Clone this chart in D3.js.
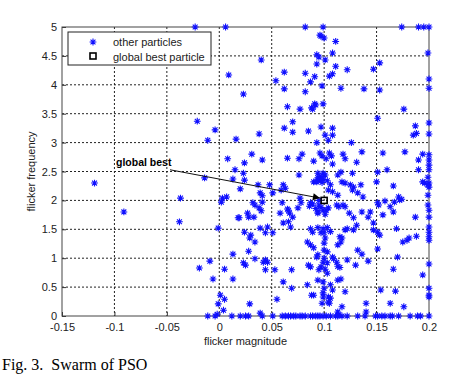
<html>
<head>
<meta charset="utf-8">
<style>
  body { margin: 0; background: #fff; }
</style>
</head>
<body>
<script src="https://d3js.org/d3.v7.min.js"></script>
<div id="chart"></div>
<script>
// tick values and labels
var xTicks = [-0.15, -0.1, -0.05, 0, 0.05, 0.1, 0.15, 0.2];
var xTickLabels = ["-0.15", "-0.1", "-0.05", "0", "0.05", "0.1", "0.15", "0.2"];
var yTicks = [0, 0.5, 1, 1.5, 2, 2.5, 3, 3.5, 4, 4.5, 5];
var yTickLabels = ["0", "0.5", "1", "1.5", "2", "2.5", "3", "3.5", "4", "4.5", "5"];

// global best particle
var bestParticle = [0.1, 2.0];

// annotation arrow: start and end (data units)
var arrowFrom = [-0.047, 2.53];
var arrowTo = [0.096, 2.04];
var arrowText = "global best";

// other particles [flicker magnitude, flicker frequency]
var particles = [
  [-0.023,5],[0.006,5],[0.082,5],[0.099,5],[0.174,5],[0.190,5],[0.195,5],[0.2,5],
  [0.096,4.86],[0.097,4.84],[0.100,4.81],[0.111,4.75],
  [0.040,4.43],[0.093,4.52],[0.108,4.55],[0.095,4.48],[0.101,4.43],[0.199,4.55],
  [0.093,4.36],[0.111,4.32],[0.122,4.26],[0.147,4.27],[0.153,4.38],
  [0.009,4.17],[0.062,4.22],[0.054,4.07],[0.082,4.20],[0.091,4.14],[0.087,4.05],[0.105,4.15],[0.108,4.19],[0.2,4.10],
  [0.062,3.93],[0.082,3.88],[0.023,3.84],[0.098,3.98],[0.116,3.94],[0.138,3.93],[0.153,3.91],[0.2,3.94],
  [0.091,3.67],[0.089,3.58],[0.065,3.62],[0.077,3.58],[0.092,3.65],[0.099,3.67],[0.088,3.60],[0.176,3.58],
  [0.151,3.42],[0.070,3.36],[0.062,3.25],[0.070,3.18],[0.085,3.20],[0.097,3.27],[0.108,3.25],[0.108,3.13],[0.101,3.13],
  [0.038,3.15],[0.016,3.06],[0.104,3.04],[0.093,3.0],[0.126,3.0],[0.2,3.34],[0.2,3.15],[0.187,3.29],[0.188,3.16],[0.185,3.13],
  [-0.021,3.37],[-0.004,3.22],[-0.011,3.04],
  [0.031,2.80],[0.024,2.65],[0.041,2.70],[0.065,2.73],[0.076,2.72],[0.079,2.80],[0.008,2.72],
  [0.096,2.82],[0.098,2.77],[0.105,2.82],[0.107,2.77],[0.102,2.72],[0.118,2.80],[0.120,2.72],[0.131,2.66],[0.136,2.84],
  [0.156,2.82],[0.177,2.84],[0.194,2.80],[0.190,2.70],
  [0.2,2.79],[0.2,2.70],[0.2,2.61],[0.2,2.53],[0.108,2.63],[0.090,2.68],
  [0.015,2.53],[0.023,2.47],[0.076,2.44],[0.094,2.47],[0.099,2.47],[0.101,2.44],[0.097,2.35],[0.116,2.49],[0.113,2.44],
  [0.127,2.47],[0.151,2.49],[0.150,2.32],[0.160,2.53],[0.190,2.53],
  [0.090,2.32],[0.094,2.35],[0.117,2.32],[0.120,2.30],[0.125,2.27],[0.128,2.23],[0.135,2.27],[0.166,2.25],[0.196,2.30],[0.2,2.30],[0.2,2.23],
  [0.037,2.27],[0.048,2.27],[0.061,2.27],[0.063,2.21],
  [-0.014,2.39],[-0.119,2.30],[0.024,2.35],[0.013,2.37],
  [-0.037,2.04],[-0.091,1.80],[-0.038,1.63],[-0.001,1.52],
  [0.002,1.97],[0.003,2.04],[0.007,2.06],[0.018,1.70],[0.013,1.07],[-0.009,0.95],[-0.019,0.83],[0.005,0.81],[-0.006,0.64],[0.013,0.64],
  [0.001,0.36],[0.005,0.29],[-0.001,0.21],[0.004,0.10],[-0.002,0.03],
  [0.059,2.18],[0.020,2.20],[0.039,2.13],[0.041,2.08],[0.051,2.13],
  [0.032,1.96],[0.034,1.92],[0.041,1.97],[0.078,1.96],[0.075,1.87],[0.087,1.96],[0.095,2.0],[0.065,1.85],[0.058,1.78],[0.027,1.78],[0.094,1.80],
  [0.096,2.42],[0.094,2.39],[0.098,2.40],[0.099,2.36],[0.103,2.34],[0.093,2.32],[0.098,2.31],
  [0.106,2.27],[0.108,2.15],[0.104,2.18],[0.127,2.18],[0.113,2.09],[0.132,2.13],[0.137,2.06],
  [0.171,2.06],[0.172,2.01],[0.199,2.40],[0.199,2.27],[0.199,2.09],[0.194,2.32],
  [0.095,1.92],[0.099,1.83],[0.104,1.87],[0.120,1.89],
  [0.144,1.80],[0.151,1.96],[0.158,1.99],[0.166,1.80],[0.199,1.92],
  [0.167,1.97],[0.174,2.02],[0.163,1.89],[0.152,1.92],[0.156,1.75],
  [0.2,1.83],[0.2,1.71],[0.2,1.54],[0.2,1.45],[0.2,1.37],[0.2,1.31],
  [0.187,1.71],[0.175,1.28],[0.179,1.31],[0.181,1.35],[0.188,1.38],[0.169,1.51],[0.147,1.49],[0.153,1.40],[0.151,1.45],
  [0.151,1.16],[0.142,0.95],[0.170,1.02],[0.166,0.81],[0.2,0.90],[0.194,0.71],[0.2,0.48],[0.2,0.36],[0.2,0.33],
  [0.154,0.45],[0.168,0.43],[0.163,0.22],[0.176,0.16],[0.140,0.22],[0.140,0.07],[0.117,0.16],[0.113,0.07],[0.114,0.02],
  [0.098,0.22],[0.105,0.22],[0.104,0.33],[0.1,0.48],[0.099,0.40],[0.088,0.36],[0.090,0.36],[0.084,0.54],[0.069,0.48],
  [0.061,0.59],[0.055,0.29],[0.029,0.21],[0.039,0.05],
  [0.025,0.88],[0.023,0.92],[0.044,0.97],[0.046,0.93],[0.042,0.93],[0.044,0.80],[0.053,0.80],[0.069,0.80],[0.034,0.99],[0.028,1.12],
  [0.019,1.70],[0.028,1.71],[0.033,1.71],[0.024,1.45],[0.030,1.40],[0.034,1.28],[0.029,1.35],
  [0.039,1.52],[0.046,1.54],[0.044,1.44],[0.051,1.44],[0.040,1.82],[0.038,1.87],
  [0.061,1.61],[0.067,1.78],[0.066,1.63],[0.070,1.71],[0.060,1.96],[0.066,1.83],[0.077,2.04],
  [0.086,1.90],[0.089,1.94],[0.092,1.86],[0.097,1.88],[0.094,1.78],[0.102,1.83],[0.101,1.76],
  [0.087,1.51],[0.089,1.45],[0.094,1.53],[0.099,1.51],[0.097,1.44],[0.103,1.53],[0.106,1.46],
  [0.084,1.28],[0.087,1.23],[0.090,1.18],
  [0.093,1.02],[0.094,1.06],[0.1,1.14],[0.103,1.11],[0.1,1.26],[0.101,1.35],[0.1,1.44],
  [0.1,1.0],[0.099,0.93],[0.103,0.92],[0.097,0.85],[0.095,0.80],[0.101,0.81],[0.103,0.74],[0.094,0.62],[0.099,0.59],
  [0.108,1.02],[0.109,0.99],[0.112,0.93],[0.113,0.86],[0.115,0.84],
  [0.106,0.54],[0.113,0.62],[0.116,0.64],[0.120,0.42],
  [0.113,1.23],[0.116,1.28],[0.117,1.35],[0.120,1.49],[0.122,1.51],[0.114,1.89],[0.112,1.92],[0.118,1.92],[0.115,1.37],
  [0.122,0.97],[0.130,0.88],[0.132,1.14],[0.136,1.07],
  [0.136,1.80],[0.124,1.78],[0.128,1.70],[0.128,1.49],[0.131,1.57],[0.142,1.71],[0.147,1.61],
  [0.108,0.45],[0.106,0.31],[0.104,0.24],[0.099,0.33],
  [0.068,1.54],[0.085,0.88],[0.087,0.85],
  [-0.011,0],[-0.004,0],[0.012,0],[0.020,0],[0.025,0],[0.028,0],[0.041,0],[0.051,0],[0.060,0],[0.063,0],[0.066,0],
  [0.068,0],[0.071,0],[0.073,0],[0.077,0],[0.079,0],[0.082,0],[0.087,0],[0.089,0],[0.092,0],[0.094,0],[0.096,0],
  [0.099,0],[0.102,0],[0.106,0],[0.111,0],[0.113,0],[0.117,0],[0.122,0],[0.132,0],[0.139,0],[0.149,0],[0.151,0],
  [0.155,0],[0.158,0],[0.163,0],[0.165,0],[0.171,0],[0.182,0],[0.189,0],[0.192,0],[0.2,0]
];

var W = 474, H = 375;
var margin = {top: 27, right: 45, bottom: 59, left: 62},
    width = W - margin.left - margin.right,
    height = H - margin.top - margin.bottom;
var sans = "'Liberation Sans', Arial, sans-serif";

var svg = d3.select("#chart")
  .append("svg")
    .attr("width", W)
    .attr("height", H)
    .style("font-family", sans);

var g = svg.append("g")
    .attr("transform", "translate(" + margin.left + "," + margin.top + ")");

var x = d3.scaleLinear().domain([-0.15, 0.2]).range([0, width]);
var y = d3.scaleLinear().domain([0, 5]).range([height, 0]);

// dotted grid
g.selectAll(".gx").data(xTicks.slice(1, -1)).enter().append("line")
  .attr("x1", function(d) { return x(d); }).attr("x2", function(d) { return x(d); })
  .attr("y1", 0).attr("y2", height)
  .attr("stroke", "#222").attr("stroke-width", 1).attr("stroke-dasharray", "2,2");
g.selectAll(".gy").data(yTicks.slice(1, -1)).enter().append("line")
  .attr("y1", function(d) { return y(d); }).attr("y2", function(d) { return y(d); })
  .attr("x1", 0).attr("x2", width)
  .attr("stroke", "#222").attr("stroke-width", 1).attr("stroke-dasharray", "2,2");

// axes
var xAxis = g.append("g")
  .attr("transform", "translate(0," + height + ")")
  .call(d3.axisBottom(x).tickValues(xTicks)
    .tickFormat(function(d, i) { return xTickLabels[i]; })
    .tickSizeInner(-4).tickSizeOuter(0).tickPadding(7));
var yAxis = g.append("g")
  .call(d3.axisLeft(y).tickValues(yTicks)
    .tickFormat(function(d, i) { return yTickLabels[i]; })
    .tickSizeInner(-4).tickSizeOuter(0).tickPadding(5));
[xAxis, yAxis].forEach(function(a) {
  a.attr("font-family", sans);
  a.select(".domain").remove();
  a.selectAll("line").attr("stroke", "#333");
  a.selectAll("text").attr("font-size", 11).attr("fill", "#222");
});

// frame
g.append("rect")
  .attr("width", width).attr("height", height)
  .attr("fill", "none").attr("stroke", "#444").attr("stroke-width", 1);

// star marker
function star(sel, r) {
  var d = r * 0.72;
  sel.append("path")
    .attr("d", "M" + (-r) + ",0H" + r + "M0," + (-r) + "V" + r +
               "M" + (-d) + "," + (-d) + "L" + d + "," + d +
               "M" + (-d) + "," + d + "L" + d + "," + (-d))
    .attr("stroke", "#1010ff").attr("stroke-width", 1.1).attr("fill", "none");
}

g.selectAll(".p").data(particles).enter().append("g")
  .attr("transform", function(d) { return "translate(" + x(d[0]) + "," + y(d[1]) + ")"; })
  .each(function() { star(d3.select(this), 3.4); });

// arrow annotation
svg.append("defs").append("marker")
  .attr("id", "ah").attr("viewBox", "0 0 10 10")
  .attr("refX", 10).attr("refY", 5)
  .attr("markerWidth", 9).attr("markerHeight", 7)
  .attr("markerUnits", "userSpaceOnUse")
  .attr("orient", "auto")
  .append("path").attr("d", "M0,0L10,5L0,10Z").attr("fill", "#000");

g.append("line")
  .attr("x1", x(arrowFrom[0])).attr("y1", y(arrowFrom[1]))
  .attr("x2", x(arrowTo[0])).attr("y2", y(arrowTo[1]))
  .attr("stroke", "#111").attr("stroke-width", 1)
  .attr("marker-end", "url(#ah)");

g.append("text")
  .attr("x", x(arrowFrom[0]) - 54).attr("y", y(arrowFrom[1]) - 4)
  .attr("font-size", 10.5).attr("font-weight", "bold").attr("fill", "#000")
  .text(arrowText);

// global best particle
g.append("rect")
  .attr("x", x(bestParticle[0]) - 3).attr("y", y(bestParticle[1]) - 3)
  .attr("width", 6).attr("height", 6)
  .attr("fill", "none").attr("stroke", "#000").attr("stroke-width", 1.6);

// legend
var lg = svg.append("g").attr("transform", "translate(68,32)");
lg.append("rect").attr("width", 143).attr("height", 33)
  .attr("fill", "#fff").attr("stroke", "#222").attr("stroke-width", 1);
var starG = lg.append("g").attr("transform", "translate(25,10)");
star(starG, 3.4);
lg.append("rect").attr("x", 22).attr("y", 21).attr("width", 6).attr("height", 6)
  .attr("fill", "none").attr("stroke", "#000").attr("stroke-width", 1.6);
lg.append("text").attr("x", 45).attr("y", 14).attr("font-size", 11).attr("fill", "#222").text("other particles");
lg.append("text").attr("x", 45).attr("y", 29).attr("font-size", 11).attr("fill", "#222").text("global best particle");

// axis labels
svg.append("text")
  .attr("x", margin.left + width / 2).attr("y", 345)
  .attr("text-anchor", "middle").attr("font-size", 11).attr("fill", "#222")
  .text("flicker magnitude");
svg.append("text")
  .attr("transform", "translate(35," + (margin.top + height / 2) + ") rotate(-90)")
  .attr("text-anchor", "middle").attr("font-size", 11).attr("fill", "#222")
  .text("flicker frequency");

// caption
svg.append("text")
  .attr("x", 2).attr("y", 370)
  .style("font-family", "'Liberation Serif', 'Times New Roman', serif")
  .style("white-space", "pre")
  .attr("font-size", 16).attr("fill", "#000")
  .text("Fig. 3.  Swarm of PSO");
</script>
</body>
</html>
